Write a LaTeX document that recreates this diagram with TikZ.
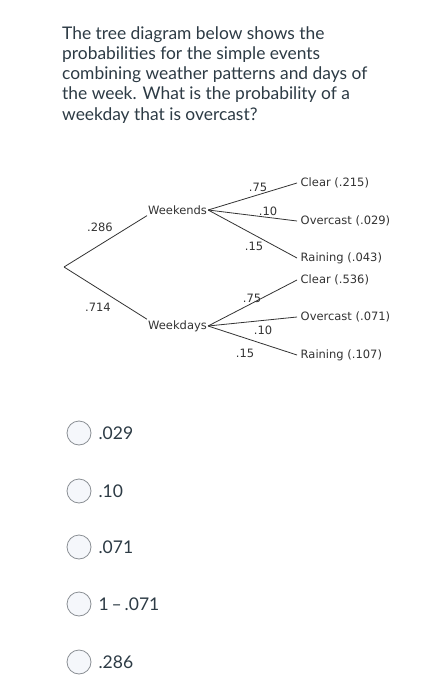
\documentclass[tikz,border=0pt]{standalone}
\usepackage{fontspec}
\setmainfont{Lato}
\newfontfamily\treefont{DejaVu Sans}
\usetikzlibrary{positioning}
\definecolor{QuizText}{HTML}{2D3B45}
\definecolor{TreeInk}{HTML}{333333}
\definecolor{RadioRim}{HTML}{8A8F94}
\definecolor{RadioFill}{HTML}{F5F7FB}

\begin{document}
\begin{tikzpicture}[
    x=1pt, y=-1pt,
    question/.style={anchor=north west, inner sep=0pt, align=left, text=QuizText, font=\fontsize{17.4}{20.3}\selectfont},
    branch/.style={anchor=west, inner sep=1pt, text=TreeInk, font=\treefont\fontsize{11.5}{13}\selectfont},
    leaf/.style={branch, inner xsep=3.5pt},
    prob/.style={inner sep=0pt, text=TreeInk, font=\treefont\fontsize{11.5}{13}\selectfont},
    edge/.style={draw=TreeInk, line width=0.8pt},
    radio/.style={circle, draw=RadioRim, fill=RadioFill, line width=0.8pt, minimum size=24pt, inner sep=0pt},
    choice/.style={anchor=west, inner sep=0pt, text=QuizText, font=\fontsize{17.5}{20}\selectfont}
]
\useasboundingbox[fill=white] (0,0) rectangle (438,700);

% Question
\node[question] (stem) at (62,26) {The tree diagram below shows the\\
probabilities for the simple events\\
combining weather patterns and days of\\
the week. What is the probability of a\\
weekday that is overcast?};

% Tree nodes
\coordinate (root) at (64,267);
\node[branch] (wkend) at (147,210) {Weekends};
\node[branch] (wkday) at (147,326) {Weekdays};
\node[leaf] (eclear) at (297,183) {Clear (.215)};
\node[leaf] (eover) at (297,221) {Overcast (.029)};
\node[leaf] (erain) at (297,258) {Raining (.043)};
\node[leaf] (dclear) at (297,280) {Clear (.536)};
\node[leaf] (dover) at (297,317) {Overcast (.071)};
\node[leaf] (drain) at (297,355) {Raining (.107)};

% Branches
\draw[edge] (root) -- (wkend.south west);
\draw[edge] (root) -- (wkday.north west);
\draw[edge] (wkend.east) -- (eclear.west);
\draw[edge] (wkend.east) -- (eover.west);
\draw[edge] (wkend.east) -- (erain.west);
\draw[edge] (wkday.east) -- (dclear.west);
\draw[edge] (wkday.east) -- (dover.west);
\draw[edge] (wkday.east) -- (drain.west);

% Probabilities
\node[prob] (pend) at (100,227) {.286};
\node[prob] (pday) at (98,307) {.714};
\node[prob] (peclear) at (258,187) {.75};
\node[prob] (peover) at (268,211) {.10};
\node[prob] (perain) at (254,246) {.15};
\node[prob] (pdclear) at (252,298) {.75};
\node[prob] (pdover) at (263,330) {.10};
\node[prob] (pdrain) at (245,353) {.15};

% Answer options
\node[radio] (optA) at (79,433) {};
\node[radio] (optB) at (79,491) {};
\node[radio] (optC) at (79,547) {};
\node[radio] (optD) at (79,604) {};
\node[radio] (optE) at (79,662) {};
\node[choice, right=7pt of optA] (ansA) {.029};
\node[choice, right=7pt of optB] (ansB) {.10};
\node[choice, right=7pt of optC] (ansC) {.071};
\node[choice, right=7pt of optD] (ansD) {1\,–\,.071};
\node[choice, right=7pt of optE] (ansE) {.286};

\end{tikzpicture}
\end{document}
